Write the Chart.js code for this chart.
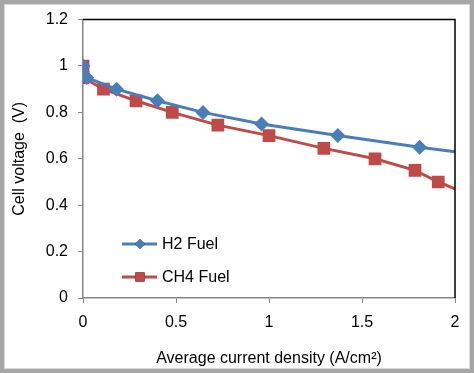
<!DOCTYPE html>
<html>
<head>
<meta charset="utf-8">
<script src="https://cdn.jsdelivr.net/npm/chart.js@4/dist/chart.umd.min.js"></script>
<style>
  html, body { margin: 0; padding: 0; background: #fff; }
  #wrap { position: relative; width: 474px; height: 373px; }
</style>
</head>
<body>
<div id="wrap"><canvas id="chart" width="474" height="373"></canvas></div>
<script>
// Data
const h2Current = [0, 0.02, 0.18, 0.40, 0.645, 0.96, 1.37, 1.81, 2.0];
const h2Voltage = [1.0, 0.95, 0.90, 0.85, 0.80, 0.75, 0.70, 0.65, 0.63];
const ch4Current = [0, 0, 0.11, 0.285, 0.48, 0.725, 1.0, 1.295, 1.57, 1.785, 1.91, 2.0];
const ch4Voltage = [1.0, 0.95, 0.90, 0.85, 0.80, 0.745, 0.70, 0.645, 0.60, 0.55, 0.50, 0.47];
// last point of each series only carries the line to the axis edge (no marker)
const h2Markers = [1, 1, 1, 1, 1, 1, 1, 1, 0];
const ch4Markers = [1, 1, 1, 1, 1, 1, 1, 1, 1, 1, 1, 0];

const xTicks = [0, 0.5, 1, 1.5, 2];
const yTicks = [0, 0.2, 0.4, 0.6, 0.8, 1, 1.2];

const BLUE = '#4a7ebb';
const RED = '#be4b48';
const FONT = 'Liberation Sans, Arial, sans-serif';

const toPoints = (xs, ys) => xs.map((x, i) => ({ x: x, y: ys[i] }));

// Frame, top/right plot border and the in-plot legend
const decorations = {
    id: 'decorations',
    beforeDraw(chart) {
        const ctx = chart.ctx;
        ctx.save();
        ctx.strokeStyle = '#a6a6a6';
        ctx.lineWidth = 4;
        ctx.strokeRect(2, 2, chart.width - 4, chart.height - 4);
        ctx.strokeStyle = '#d9d9d9';
        ctx.lineWidth = 1;
        ctx.strokeRect(4.5, 4.5, chart.width - 9, chart.height - 9);
        ctx.restore();
    },
    afterDraw(chart) {
        const ctx = chart.ctx;
        const a = chart.chartArea;
        ctx.save();
        ctx.strokeStyle = '#000';
        ctx.lineWidth = 1.5;
        ctx.beginPath();
        ctx.moveTo(a.left, a.top);
        ctx.lineTo(a.right, a.top);
        ctx.lineTo(a.right, a.bottom);
        ctx.stroke();

        // legend
        const rows = [244, 277];
        chart.data.datasets.forEach((ds, i) => {
            const y = rows[i];
            ctx.strokeStyle = ds.borderColor;
            ctx.lineWidth = 3;
            ctx.beginPath();
            ctx.moveTo(122, y);
            ctx.lineTo(157, y);
            ctx.stroke();
            Chart.helpers.drawPoint(ctx, {
                pointStyle: ds.pointStyle,
                radius: ds.pointStyle === 'rect' ? 6.5 : 5,
                borderWidth: 0
            }, 140, y);
            ctx.fillStyle = ds.borderColor;
            ctx.fill();
            ctx.fillStyle = '#000';
            ctx.font = '16px ' + FONT;
            ctx.textBaseline = 'middle';
            ctx.textAlign = 'left';
            ctx.fillText(ds.label, 162, y + 1);
        });
        ctx.restore();
    }
};

new Chart(document.getElementById('chart'), {
    type: 'scatter',
    data: {
        datasets: [
            {
                label: 'H2 Fuel',
                data: toPoints(h2Current, h2Voltage),
                showLine: true,
                borderColor: BLUE,
                backgroundColor: BLUE,
                borderWidth: 3,
                pointStyle: 'rectRot',
                pointRadius: h2Markers.map(m => m ? 7.5 : 0),
                pointBorderWidth: 0
            },
            {
                label: 'CH4 Fuel',
                data: toPoints(ch4Current, ch4Voltage),
                showLine: true,
                borderColor: RED,
                backgroundColor: RED,
                borderWidth: 3,
                pointStyle: 'rect',
                pointRadius: ch4Markers.map(m => m ? 9 : 0),
                pointBorderWidth: 0
            }
        ]
    },
    options: {
        responsive: false,
        animation: false,
        layout: { padding: { top: 17, right: 19, left: 0, bottom: 0 } },
        plugins: {
            legend: { display: false },
            tooltip: { enabled: false }
        },
        scales: {
            x: {
                type: 'linear',
                min: 0,
                max: 2,
                afterBuildTicks: scale => { scale.ticks = xTicks.map(v => ({ value: v })); },
                afterFit: scale => { scale.height = 75; },
                grid: { drawOnChartArea: false, drawTicks: true, tickLength: 5, color: '#868686' },
                border: { color: '#868686', width: 1.5 },
                ticks: { color: '#000', font: { family: FONT, size: 16 }, padding: 10, callback: v => String(v) },
                title: {
                    display: true,
                    text: 'Average current density (A/cm²)',
                    color: '#000',
                    font: { family: FONT, size: 16 },
                    padding: { top: 0, bottom: 5 }
                }
            },
            y: {
                min: 0,
                max: 1.2,
                afterBuildTicks: scale => { scale.ticks = yTicks.map(v => ({ value: v })); },
                afterFit: scale => { scale.width = 83; },
                grid: { drawOnChartArea: false, drawTicks: true, tickLength: 5, color: '#868686' },
                border: { color: '#868686', width: 1.5 },
                ticks: { color: '#000', font: { family: FONT, size: 16 }, padding: 10, callback: v => String(v) },
                title: {
                    display: true,
                    text: 'Cell voltage  (V)',
                    color: '#000',
                    font: { family: FONT, size: 16 },
                    padding: { top: 10, bottom: 0 }
                }
            }
        }
    },
    plugins: [decorations]
});
</script>
</body>
</html>
